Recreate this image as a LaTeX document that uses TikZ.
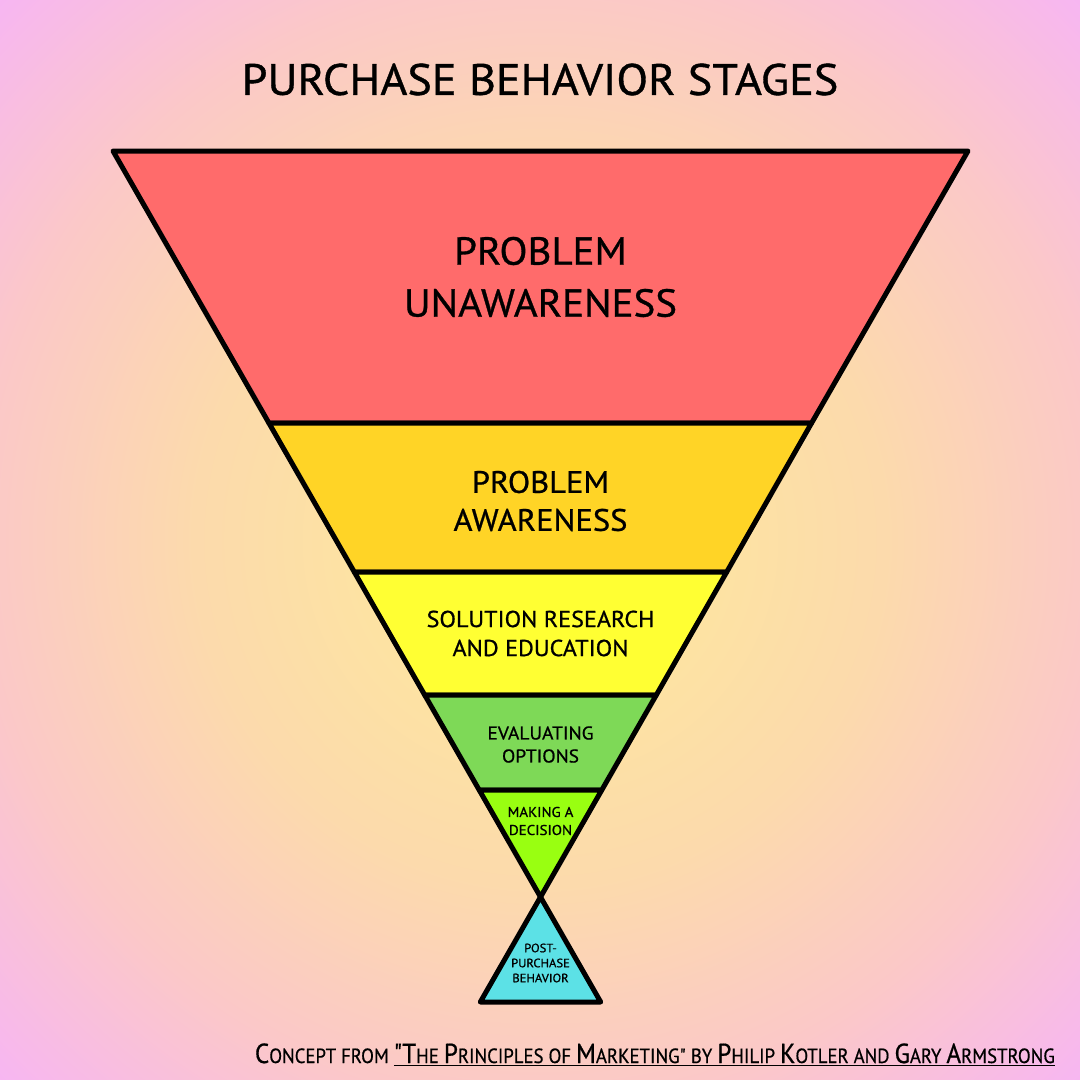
\documentclass[tikz,border=0pt]{standalone}
\usepackage{fontspec}
\setmainfont{PT Sans}[FakeBold=0.8,FakeStretch=1.05]
\newfontfamily\footfont{PT Sans}[FakeBold=0.6,FakeStretch=0.915]
\usetikzlibrary{calc}
\definecolor{bgC}{HTML}{FDE5A0}
\definecolor{bgI}{HTML}{FCDAAC}
\definecolor{bgM}{HTML}{FBC8C8}
\definecolor{bgO}{HTML}{F7B6F2}
\definecolor{cRed}{HTML}{FF6B6B}
\definecolor{cOrange}{HTML}{FFD426}
\definecolor{cYellow}{HTML}{FFFF33}
\definecolor{cGreen}{HTML}{7ED957}
\definecolor{cLime}{HTML}{99FF11}
\definecolor{cCyan}{HTML}{5CE1E6}
\pgfdeclareradialshading{bgshade}{\pgfpoint{0bp}{0bp}}{color(0bp)=(bgC); color(6bp)=(bgC); color(16bp)=(bgI); color(26bp)=(bgM); color(35.4bp)=(bgO); color(50bp)=(bgO)}
\newcommand\fsc[2]{{\fontsize{27.5}{27.5}\selectfont #1}{\fontsize{20.5}{20.5}\selectfont #2}}
\begin{document}
\begin{tikzpicture}[x=1pt,y=-1pt,
  band/.style={draw=black,line width=5pt,line join=round},
  lbl/.style={align=center,text=black,inner sep=0pt}]
\shade[shading=bgshade] (0,0) rectangle (1080,1080);
\useasboundingbox (0,0) rectangle (1080,1080);
% funnel bands
\filldraw[band,fill=cRed]    (113,151) -- (968,151) -- (811.6,423) -- (268.9,423) -- cycle;
\filldraw[band,fill=cOrange] (268.9,423) -- (811.6,423) -- (726.7,572) -- (354.3,572) -- cycle;
\filldraw[band,fill=cYellow] (354.3,572) -- (726.7,572) -- (656.3,695) -- (424.7,695) -- cycle;
\filldraw[band,fill=cGreen]  (424.7,695) -- (656.3,695) -- (601.8,790) -- (479.2,790) -- cycle;
\filldraw[band,fill=cLime]   (479.2,790) -- (601.8,790) -- (540.5,897) -- cycle;
\filldraw[band,fill=cCyan]   (540.5,897) -- (600.7,1002) -- (480.3,1002) -- cycle;
% labels
\node[lbl,font=\fontsize{44}{44}\selectfont] (title) at (540,79.5) {PURCHASE BEHAVIOR STAGES};
\node[lbl,font=\fontsize{39}{52}\selectfont] (t1) at (540.5,277) {PROBLEM\\UNAWARENESS};
\node[lbl,font=\fontsize{31}{38}\selectfont] (t2) at (540.5,501) {PROBLEM\\AWARENESS};
\node[lbl,font=\fontsize{23}{29}\selectfont] (t3) at (540.5,633.5) {SOLUTION RESEARCH\\AND EDUCATION};
\node[lbl,font=\fontsize{18.5}{23}\selectfont] (t4) at (540.5,744.5) {EVALUATING\\OPTIONS};
\node[lbl,font=\fontsize{14.2}{18}\selectfont] (t5) at (540.5,821) {MAKING A\\DECISION};
\node[lbl,font=\fontsize{12}{15}\selectfont] (t6) at (540.5,963) {POST-\\PURCHASE\\BEHAVIOR};
\node[lbl,anchor=base east,font=\footfont\fontsize{20.5}{20.5}\selectfont] (credit) at (1055,1063) {\fsc{C}{ONCEPT FROM} \underline{\fsc{\char34 T}{HE} \fsc{P}{RINCIPLES OF} \fsc{M}{ARKETING\char34} \fsc{}{BY} \fsc{P}{HILIP} \fsc{K}{OTLER AND} \fsc{G}{ARY} \fsc{A}{RMSTRONG}}};
\end{tikzpicture}
\end{document}
